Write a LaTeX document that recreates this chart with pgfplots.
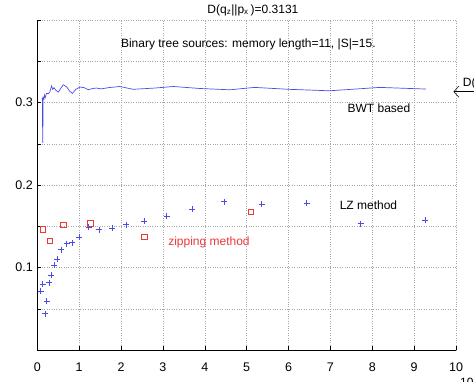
\documentclass[border=0pt]{standalone}
\usepackage{pgfplots}
\pgfplotsset{compat=1.18}
\usepackage{fontspec}
\setmainfont{Liberation Sans}
\usetikzlibrary{arrows.meta}
\definecolor{mblue}{rgb}{0.30,0.30,0.92}
\definecolor{mred}{rgb}{0.92,0.22,0.22}
\begin{document}
\begin{tikzpicture}
\begin{axis}[
  scale only axis,
  width=418.7pt, height=330pt,
  xmin=0, xmax=10, ymin=0, ymax=0.4,
  axis x line*=bottom, axis y line*=left,
  axis line style={black, line width=0.5pt, -},
  xtick={0,1,...,10},
  ytick={0,0.05,0.1,0.15,0.2,0.25,0.3,0.35,0.4},
  yticklabels={,,0.1,,0.2,,0.3,,},
  tick align=inside,
  major tick length=4pt,
  tick style={black, line width=0.5pt},
  grid=major,
  grid style={gray!70, dotted, line width=0.5pt},
  /pgf/number format/assume math mode=true,
  ticklabel style={font=\fontsize{12.5}{14}\selectfont},
  xticklabel style={yshift=-9pt},
  yticklabel style={xshift=-1pt},
  clip=false,
  font=\fontsize{12}{14}\selectfont,
]
% BWT based
\addplot[mblue, line width=0.7pt, mark=none] coordinates {
(0.12,0.306) (0.13,0.251) (0.14,0.306) (0.16,0.304) (0.17,0.309) (0.19,0.306)
(0.22,0.311) (0.27,0.311) (0.30,0.313) (0.34,0.320) (0.37,0.316) (0.40,0.318)
(0.44,0.315) (0.50,0.3126) (0.56,0.317) (0.62,0.3215) (0.70,0.319) (0.77,0.314)
(0.84,0.311) (0.92,0.316) (1.02,0.3187) (1.12,0.318) (1.22,0.3154) (1.32,0.317)
(1.41,0.3175) (1.53,0.3165) (1.70,0.318) (1.97,0.3194) (2.29,0.316) (2.80,0.3175)
(3.25,0.3194) (3.88,0.317) (4.60,0.3154) (5.19,0.3183) (6.00,0.316) (6.98,0.3142)
(8.18,0.3183) (9.28,0.3163)
};
% LZ method
\addplot[only marks, mblue, mark=+, mark size=3pt, mark options={line width=0.6pt}] coordinates {
(0.08,0.0716) (0.13,0.0798) (0.18,0.0442) (0.22,0.0591) (0.28,0.0818) (0.33,0.0907)
(0.40,0.1028) (0.48,0.110) (0.57,0.1218) (0.70,0.129) (0.84,0.130) (1.00,0.137)
(1.23,0.149) (1.47,0.146) (1.78,0.1473) (2.13,0.152) (2.55,0.156) (3.09,0.1625)
(3.70,0.1707) (4.46,0.180) (5.36,0.177) (6.43,0.1776) (7.72,0.1533) (9.27,0.1573)
};
% zipping method
\addplot[only marks, mred, mark=square, mark size=2.8pt, mark options={line width=0.6pt}] coordinates {
(0.13,0.1464) (0.30,0.1323) (0.62,0.152) (1.26,0.1533) (2.55,0.137) (5.10,0.1674)
};
\node at (axis cs:5.04,0.37) {Binary tree sources: memory length=11, |S|=15.};
\node at (axis cs:8.16,0.2936) {BWT based};
\node at (axis cs:7.91,0.1758) {LZ method};
\node[text=mred] at (axis cs:4.10,0.1307) {zipping method};
\node[anchor=south west, inner sep=0pt] at (axis cs:10.16,0.3165) {D(q\textsubscript{z}||p\textsubscript{x})};
\draw[{Straight Barb[length=5pt,width=11pt]}-, line width=0.5pt] (axis cs:9.94,0.3131) -- (axis cs:10.7,0.3131);
\node at (axis cs:5.15,0.4) [yshift=10pt] {D(q\textsubscript{z}||p\textsubscript{x}\,)=0.3131};
\node[anchor=north west, inner sep=0pt] at (axis cs:10,0) [yshift=-28pt, xshift=4pt] {10};
\end{axis}
\pgfresetboundingbox
\useasboundingbox ([xshift=-37.3pt,yshift=-31pt]current axis.south west) rectangle ([xshift=18pt,yshift=20pt]current axis.north east);
\end{tikzpicture}
\end{document}
